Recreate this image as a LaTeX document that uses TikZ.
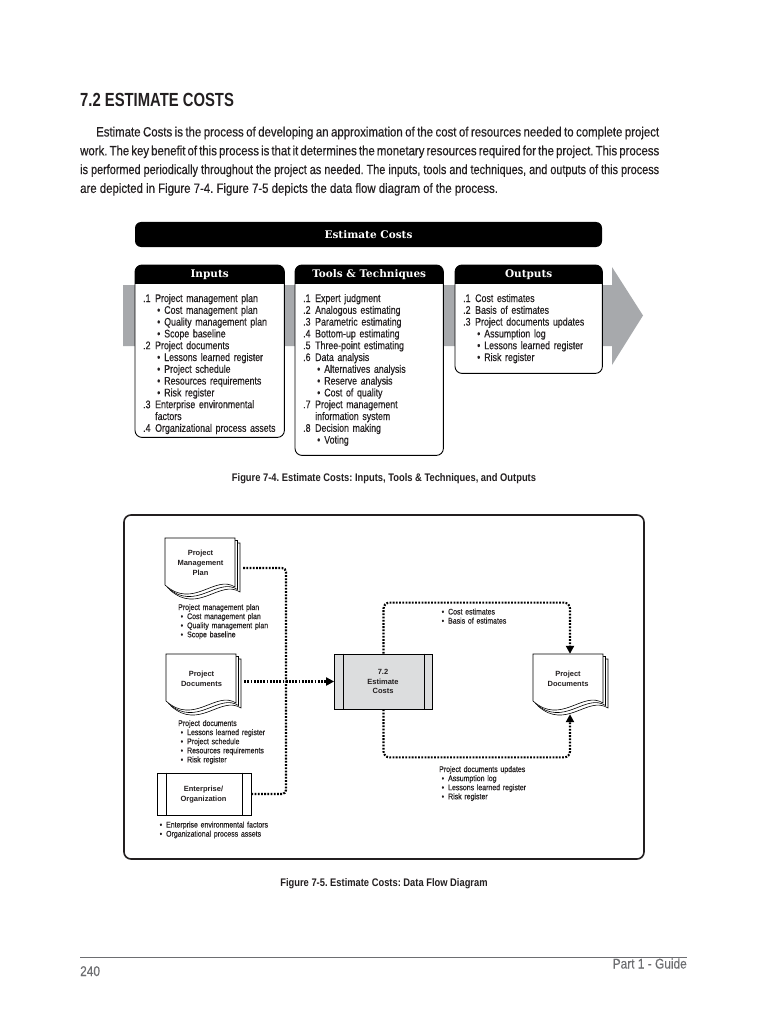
\documentclass[tikz,border=0pt]{standalone}
\usepackage{fontspec}
\setmainfont{Liberation Sans}
\newfontfamily\condA{Liberation Sans}[FakeStretch=0.845, FakeBold=0.4]
\newfontfamily\condCap{Liberation Sans}[FakeStretch=0.85]
\newfontfamily\condB{Liberation Sans}[FakeStretch=0.8, FakeBold=0.3]
\newfontfamily\condC{Liberation Sans}[FakeStretch=0.85, FakeBold=0.2]
\newfontfamily\condH{Liberation Sans}[FakeStretch=0.78]
\newfontfamily\slab{DejaVu Serif}
\usetikzlibrary{arrows.meta}
\frenchspacing
\definecolor{txt}{HTML}{231F20}
\definecolor{arrowgray}{HTML}{A7A9AC}
\definecolor{procgray}{HTML}{DCDDDE}
\definecolor{footgray}{HTML}{6D6E71}
\newcommand\nr[1]{\makebox[12pt][l]{#1}}
\newcommand\bul{\hspace*{14pt}\textbullet\hspace{4pt}}
\newcommand\cnt{\hspace*{12pt}}
\newcommand\sbul{\hspace*{2.5pt}\textbullet\hspace{4pt}}
\newcommand\docstack[2]{%
  \foreach \d in {5,2.5,0}{%
    \filldraw[fill=white, draw=black, line width=0.6pt, shift={(#1+\d,#2+\d)}]
      (0,0) -- (70,0) -- (70,49) .. controls (50,36) and (28,72) .. (0,47) -- cycle;}}
\newcommand\ittobox[6]{%
  \node[inner sep=0, anchor=north west, minimum width=#3-#2, minimum height=#4-265] (#1) at (#2,265) {};
  \begin{scope}
    \clip[rounded corners=7] (#1.north west) rectangle (#1.south east);
    \fill[white] (#1.north west) rectangle (#1.south east);
    \fill[black] (#1.north west) rectangle ([yshift=-18.5pt]#1.north east);
  \end{scope}
  \draw[line width=0.9pt, rounded corners=7] (#1.north west) rectangle (#1.south east);
  \node[text=white, inner sep=0, font=\slab\bfseries\fontsize{10.5}{12}\selectfont] (#1title) at ([yshift=-10pt]#1.north) {#5};
  \node[anchor=base west, inner sep=0, text width=150pt, align=left, text=txt,
        font=\condB\fontsize{11}{11.8}\selectfont] (#1list) at ([xshift=8pt, yshift=-37pt]#1.north west) {#6};
}
\begin{document}
\begin{tikzpicture}[x=1pt, y=-1pt,
  para/.style={anchor=base west, inner sep=0, text=txt, font=\condA\fontsize{13.5}{16}\selectfont},
  dotline/.style={line width=2.1pt, dash pattern=on 1.8pt off 1.4pt},
  tip/.style={-{Triangle[length=8pt,width=8pt]}},
  doctext/.style={inner sep=0, align=center, text=txt, font=\bfseries\fontsize{7.5}{9.8}\selectfont},
  lbl/.style={anchor=base west, inner sep=0, text width=160pt, align=left, text=txt, font=\condC\fontsize{8.2}{9.1}\selectfont},
  caption/.style={anchor=base, inner sep=0, text=txt, font=\condCap\bfseries\fontsize{11}{13}\selectfont}]
\fill[white] (0,0) rectangle (768,1024);
\useasboundingbox (0,0) rectangle (768,1024);

% heading and paragraph
\node[anchor=base west, inner sep=0, text=txt, font=\condH\bfseries\fontsize{19}{22}\selectfont] (head) at (80,107) {7.2 ESTIMATE COSTS};
\node[para] (p1) at (96,136.5) {\makebox[563pt][s]{Estimate Costs is the process of developing an approximation of the cost of resources needed to complete project}};
\node[para] (p2) at (80,155.3) {\makebox[579pt][s]{work. The key benefit of this process is that it determines the monetary resources required for the project. This process}};
\node[para] (p3) at (80,174.1) {\resizebox{579pt}{\height}{is performed periodically throughout the project as needed. The inputs, tools and techniques, and outputs of this process}};
\node[para] (p4) at (80,192.9) {are depicted in Figure 7-4. Figure 7-5 depicts the data flow diagram of the process.};

% ITTO figure
\node[fill=black, rounded corners=6, minimum width=467pt, minimum height=25pt, inner sep=0, text=white,
      font=\slab\bfseries\fontsize{10.5}{12}\selectfont] (banner) at (368.5,234.5) {Estimate Costs};
\fill[arrowgray] (123,285) -- (612,285) -- (612,267) -- (643,315.5) -- (612,365) -- (612,346) -- (123,346) -- cycle;

\ittobox{inputs}{135}{284}{437}{Inputs}{%
\nr{.1}Project management plan\\
\bul Cost management plan\\
\bul Quality management plan\\
\bul Scope baseline\\
\nr{.2}Project documents\\
\bul Lessons learned register\\
\bul Project schedule\\
\bul Resources requirements\\
\bul Risk register\\
\nr{.3}Enterprise environmental\\
\cnt factors\\
\nr{.4}Organizational process assets}

\ittobox{tools}{295}{443}{455}{Tools \& Techniques}{%
\nr{.1}Expert judgment\\
\nr{.2}Analogous estimating\\
\nr{.3}Parametric estimating\\
\nr{.4}Bottom-up estimating\\
\nr{.5}Three-point estimating\\
\nr{.6}Data analysis\\
\bul Alternatives analysis\\
\bul Reserve analysis\\
\bul Cost of quality\\
\nr{.7}Project management\\
\cnt information system\\
\nr{.8}Decision making\\
\bul Voting}

\ittobox{outputs}{455}{602}{373}{Outputs}{%
\nr{.1}Cost estimates\\
\nr{.2}Basis of estimates\\
\nr{.3}Project documents updates\\
\bul Assumption log\\
\bul Lessons learned register\\
\bul Risk register}

\node[caption] (cap1) at (384,481) {Figure 7-4. Estimate Costs: Inputs, Tools \& Techniques, and Outputs};

% data flow diagram
\node[draw=txt, line width=1.6pt, rounded corners=7, minimum width=520pt, minimum height=344pt, inner sep=0] (frame) at (384,687) {};

\docstack{165}{538}
\node[minimum width=78pt, minimum height=50pt, inner sep=0] (pmp) at (204,563) {};
\node[doctext] (pmptext) at (200.5,563) {Project\\Management\\Plan};

\docstack{166}{654}
\node[minimum width=78pt, minimum height=50pt, inner sep=0] (pd) at (205,679) {};
\node[doctext] (pdtext) at (201.5,678.5) {Project\\Documents};

\node[draw, line width=0.8pt, fill=white, minimum width=94pt, minimum height=42pt, inner sep=0] (ent) at (204,794) {};
\draw[line width=0.8pt] ([xshift=9.5pt]ent.north west) -- ([xshift=9.5pt]ent.south west);
\draw[line width=0.8pt] ([xshift=-9.5pt]ent.north east) -- ([xshift=-9.5pt]ent.south east);
\node[doctext] (enttext) at (203.5,794.5) {Enterprise/\\Organization};

\node[draw, line width=0.8pt, fill=procgray, minimum width=98pt, minimum height=55pt, inner sep=0] (proc) at (383.5,681.5) {};
\draw[line width=0.8pt] ([xshift=9.5pt]proc.north west) -- ([xshift=9.5pt]proc.south west);
\draw[line width=0.8pt] ([xshift=-9pt]proc.north east) -- ([xshift=-9pt]proc.south east);
\node[doctext] (proctext) at (383,681.5) {7.2\\Estimate\\Costs};

\docstack{533}{654}
\node[minimum width=2pt, minimum height=60pt, inner sep=0] (out) at (570,684) {};
\node[doctext] (outtext) at (568,678.5) {Project\\Documents};

\coordinate (j) at (286,681.5);
\draw[dotline, rounded corners=4] ([yshift=-5pt]pmp.east) -| (j);
\draw[dotline, rounded corners=4] (ent.east) -| (j);
\draw[dotline, tip] (pd.east |- proc.west) -- (proc.west);
\draw[dotline, tip, rounded corners=6] (proc.north) -- ++(0,-51) -| (out.north);
\draw[dotline, tip, rounded corners=6] (proc.south) -- ++(0,48) -| (out.south);

\node[lbl] (lpmp) at (178,610) {Project management plan\\
\sbul Cost management plan\\
\sbul Quality management plan\\
\sbul Scope baseline};
\node[lbl] (lpd) at (178,726) {Project documents\\
\sbul Lessons learned register\\
\sbul Project schedule\\
\sbul Resources requirements\\
\sbul Risk register};
\node[lbl] (lent) at (157,827.5) {\sbul Enterprise environmental factors\\
\sbul Organizational process assets};
\node[lbl] (lout1) at (439,614.5) {\sbul Cost estimates\\
\sbul Basis of estimates};
\node[lbl] (lout2) at (439,772) {Project documents updates\\
\sbul Assumption log\\
\sbul Lessons learned register\\
\sbul Risk register};

\node[caption] (cap2) at (384,886) {Figure 7-5. Estimate Costs: Data Flow Diagram};

% footer
\draw[footgray, line width=0.8pt] (80,957.5) -- (687,957.5);
\node[anchor=base west, inner sep=0, text=footgray, font=\condC\fontsize{14}{16}\selectfont] (pagenum) at (80,976) {240};
\node[anchor=base east, inner sep=0, text=footgray, font=\condC\fontsize{14}{16}\selectfont] (part) at (687,968.5) {Part 1 - Guide};
\end{tikzpicture}
\end{document}
